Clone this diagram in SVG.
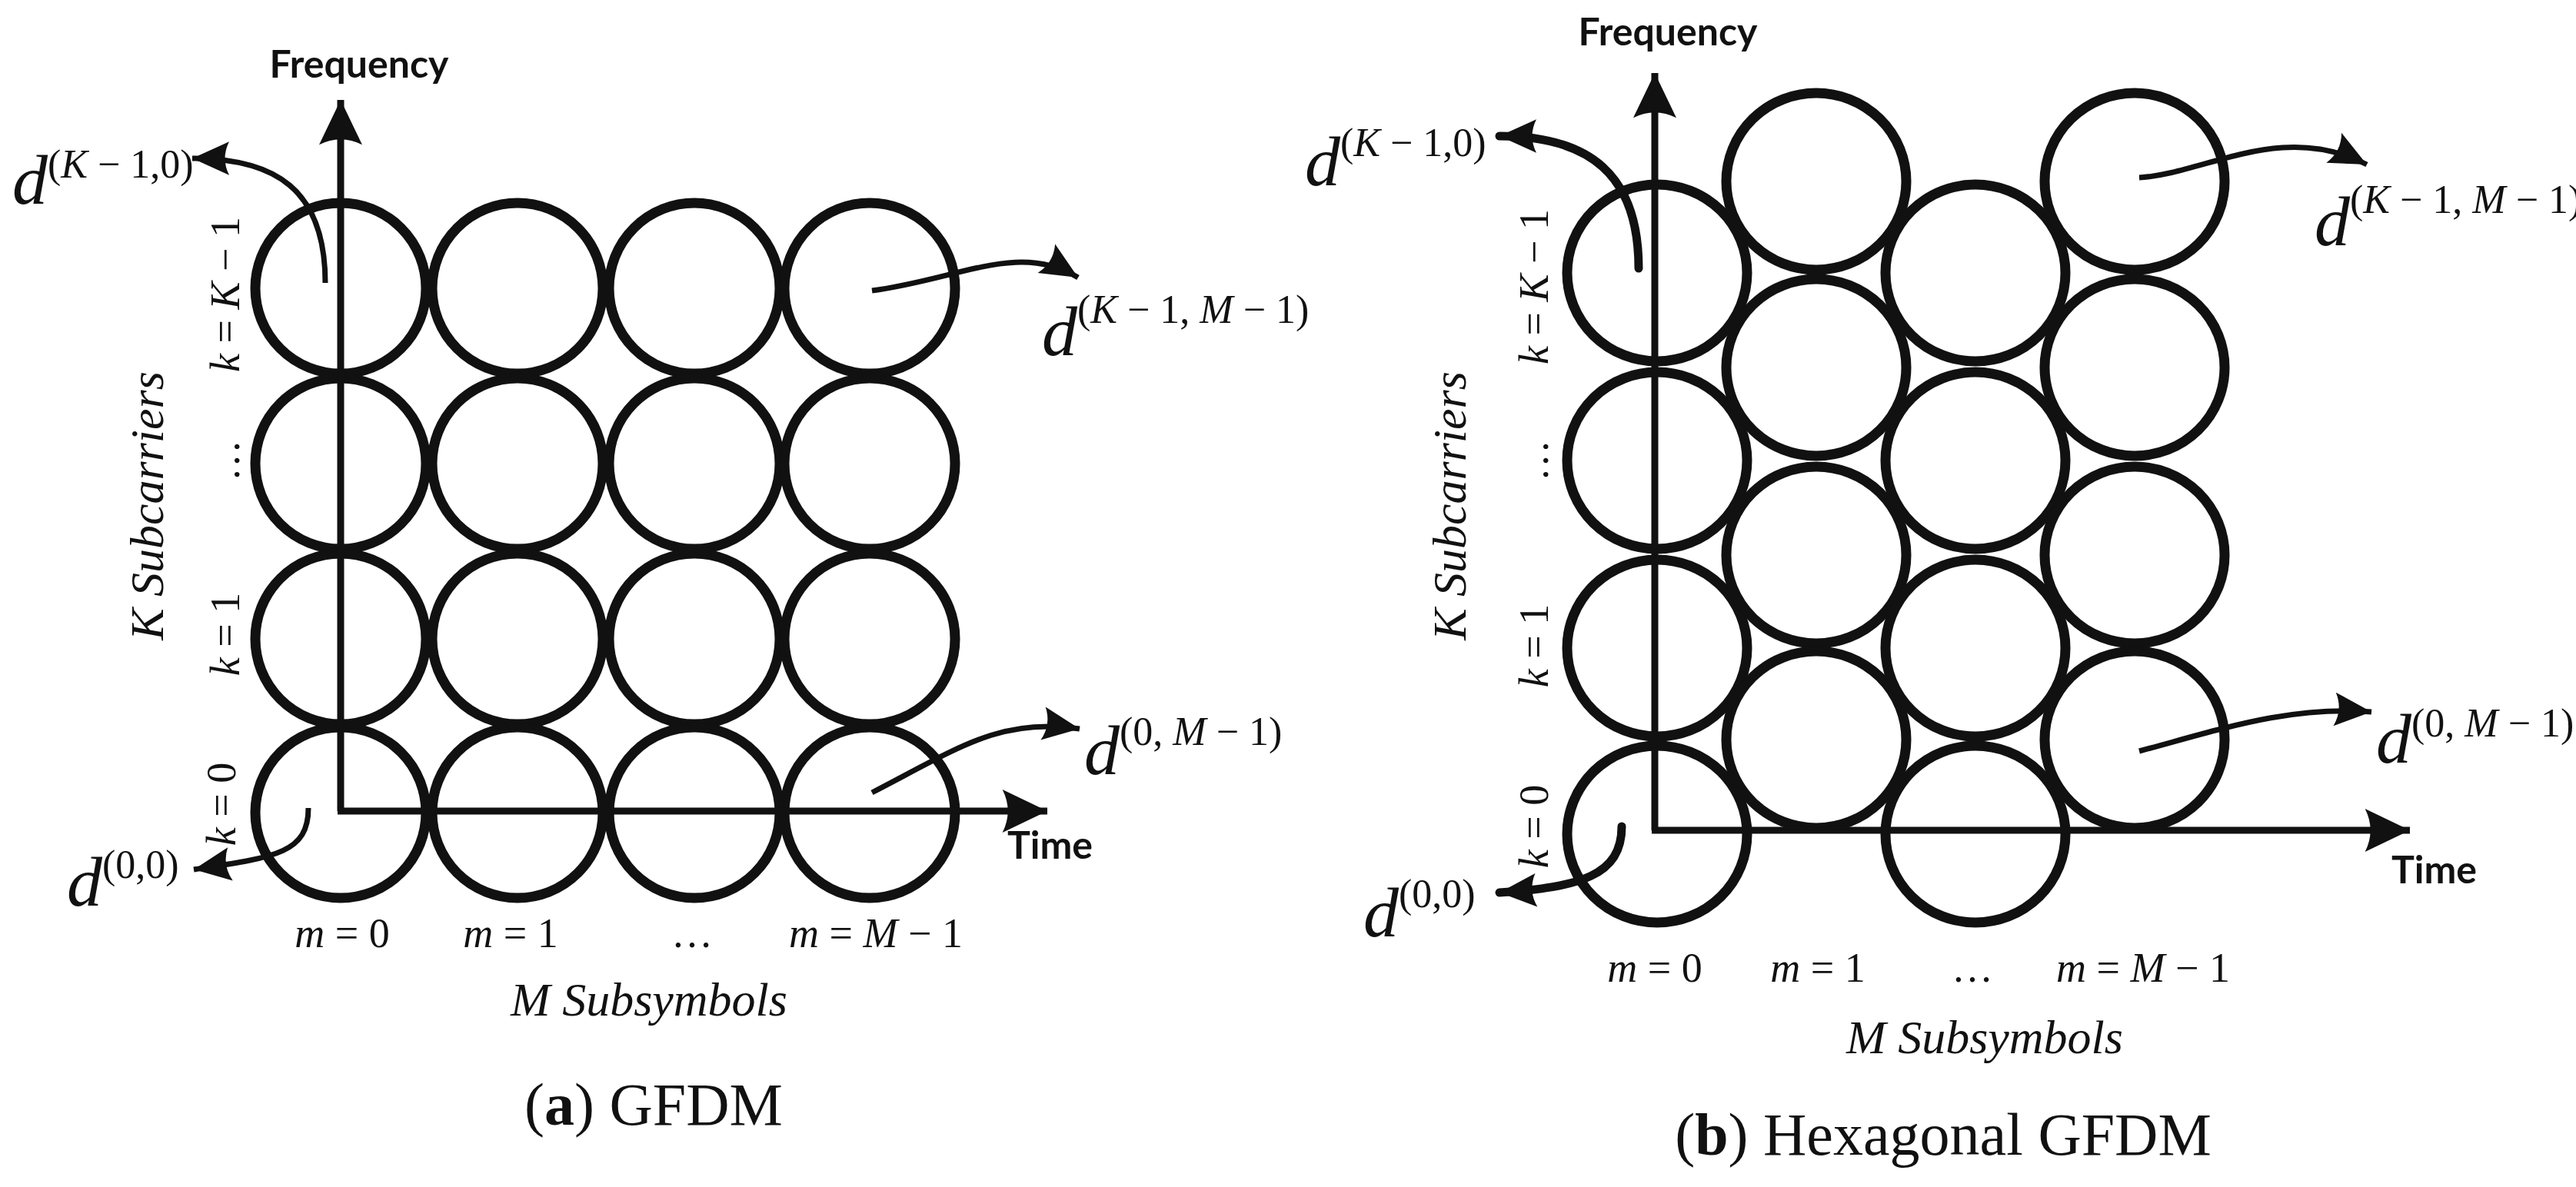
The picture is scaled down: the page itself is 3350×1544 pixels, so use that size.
<svg xmlns="http://www.w3.org/2000/svg" width="3350" height="1544" viewBox="0 0 3350 1544">
<style>
.c{fill:none;stroke:#111;stroke-width:13}
.ax{fill:none;stroke:#111;stroke-width:9}
.cv{fill:none;stroke:#111;stroke-width:7}
.cvb{fill:none;stroke:#111;stroke-width:11;stroke-linecap:round}
.lb{font-family:Lato,"Liberation Sans",sans-serif;font-weight:bold;font-size:50px;fill:#111}
.m{font-family:"Liberation Serif",serif;font-size:54px;fill:#111}
.i{font-style:italic}
.d{font-family:"Liberation Serif",serif;font-style:italic;font-size:92px;fill:#111}
.s{font-family:"Liberation Serif",serif;font-size:52px;fill:#111}
.cap{font-family:"Liberation Serif",serif;font-size:78px;fill:#111}
.t{font-family:"Liberation Serif",serif;font-style:italic;font-size:62px;fill:#111}
</style>
<defs>
<marker id="ah" markerUnits="userSpaceOnUse" markerWidth="60" markerHeight="60" viewBox="-50 -25 55 50" refX="0" refY="0" orient="auto">
<path d="M0,0 L-44,-20 Q-34,0 -44,20 Z" fill="#111"/>
</marker>
<marker id="ax" markerUnits="userSpaceOnUse" markerWidth="70" markerHeight="70" viewBox="-55 -30 60 60" refX="0" refY="0" orient="auto">
<path d="M0,0 L-50,-24 Q-38,0 -50,24 Z" fill="#111"/>
</marker>
</defs>
<g id="panel-a">
<g id="nodes-a">
<ellipse class="c" cx="443" cy="375" rx="111" ry="111"/><ellipse class="c" cx="673" cy="375" rx="111" ry="111"/><ellipse class="c" cx="903" cy="375" rx="111" ry="111"/><ellipse class="c" cx="1131" cy="375" rx="111" ry="111"/>
<ellipse class="c" cx="443" cy="603" rx="111" ry="111"/><ellipse class="c" cx="673" cy="603" rx="111" ry="111"/><ellipse class="c" cx="903" cy="603" rx="111" ry="111"/><ellipse class="c" cx="1131" cy="603" rx="111" ry="111"/>
<ellipse class="c" cx="443" cy="831" rx="111" ry="111"/><ellipse class="c" cx="673" cy="831" rx="111" ry="111"/><ellipse class="c" cx="903" cy="831" rx="111" ry="111"/><ellipse class="c" cx="1131" cy="831" rx="111" ry="111"/>
<ellipse class="c" cx="443" cy="1057" rx="111" ry="111"/><ellipse class="c" cx="673" cy="1057" rx="111" ry="111"/><ellipse class="c" cx="903" cy="1057" rx="111" ry="111"/><ellipse class="c" cx="1131" cy="1057" rx="111" ry="111"/>
</g>
<g id="connectors-a">
<path class="ax" d="M443,1055 V130" marker-end="url(#ax)"/>
<path class="ax" d="M439,1055 H1362" marker-end="url(#ax)"/>
<path class="cv" d="M423,368 C423,246 358,206 250,206" marker-end="url(#ah)"/>
<path class="cv" d="M1134,378 C1248,363 1324,314 1402,361" marker-end="url(#ah)"/>
<path class="cv" d="M1134,1031 C1248,972 1302,933 1404,948" marker-end="url(#ah)"/>
<path class="cv" d="M401,1051 C401,1110 358,1115 252,1131" marker-end="url(#ah)"/>
</g>
<text class="lb" x="467" y="101" text-anchor="middle">Frequency</text>
<text class="lb" x="1310" y="1117">Time</text>
<text x="16" y="265"><tspan class="d">d</tspan><tspan class="s" dy="-34">(<tspan class="i">K</tspan> − 1,0)</tspan></text>
<text x="1355" y="462"><tspan class="d">d</tspan><tspan class="s" dy="-42">(<tspan class="i">K</tspan> − 1, <tspan class="i">M</tspan> − 1)</tspan></text>
<text x="1410" y="1007"><tspan class="d">d</tspan><tspan class="s" dy="-38">(0, <tspan class="i">M</tspan> − 1)</tspan></text>
<text x="87" y="1178"><tspan class="d">d</tspan><tspan class="s" dy="-36">(0,0)</tspan></text>
<text class="m" transform="translate(311,383) rotate(-90)" text-anchor="middle"><tspan class="i">k</tspan> = <tspan class="i">K</tspan> − 1</text>
<text class="m" transform="translate(311,599) rotate(-90)" text-anchor="middle">…</text>
<text class="m" transform="translate(311,825) rotate(-90)" text-anchor="middle"><tspan class="i">k</tspan> = 1</text>
<text class="m" transform="translate(306,1046) rotate(-90)" text-anchor="middle"><tspan class="i">k</tspan> = 0</text>
<text class="t" transform="translate(212,658) rotate(-90)" text-anchor="middle">K Subcarriers</text>
<text class="m" x="445" y="1232" text-anchor="middle"><tspan class="i">m</tspan> = 0</text>
<text class="m" x="664" y="1232" text-anchor="middle"><tspan class="i">m</tspan> = 1</text>
<text class="m" x="900" y="1232" text-anchor="middle">…</text>
<text class="m" x="1139" y="1232" text-anchor="middle"><tspan class="i">m</tspan> = <tspan class="i">M</tspan> − 1</text>
<text class="t" x="844" y="1321" text-anchor="middle">M Subsymbols</text>
<text class="cap" x="850" y="1463" text-anchor="middle">(<tspan font-weight="bold">a</tspan>) GFDM</text>
</g>
<g id="panel-b">
<g id="nodes-b">
<ellipse class="c" cx="2155" cy="355" rx="117" ry="115"/><ellipse class="c" cx="2155" cy="599" rx="117" ry="115"/><ellipse class="c" cx="2155" cy="843" rx="117" ry="115"/><ellipse class="c" cx="2155" cy="1085" rx="117" ry="115"/>
<ellipse class="c" cx="2362" cy="236" rx="117" ry="115"/><ellipse class="c" cx="2362" cy="478" rx="117" ry="115"/><ellipse class="c" cx="2362" cy="722" rx="117" ry="115"/><ellipse class="c" cx="2362" cy="962" rx="117" ry="115"/>
<ellipse class="c" cx="2569" cy="355" rx="117" ry="115"/><ellipse class="c" cx="2569" cy="599" rx="117" ry="115"/><ellipse class="c" cx="2569" cy="843" rx="117" ry="115"/><ellipse class="c" cx="2569" cy="1085" rx="117" ry="115"/>
<ellipse class="c" cx="2776" cy="236" rx="117" ry="115"/><ellipse class="c" cx="2776" cy="478" rx="117" ry="115"/><ellipse class="c" cx="2776" cy="722" rx="117" ry="115"/><ellipse class="c" cx="2776" cy="962" rx="117" ry="115"/>
</g>
<g id="connectors-b">
<path class="ax" d="M2152,1080 V95" marker-end="url(#ax)"/>
<path class="ax" d="M2148,1080 H3134" marker-end="url(#ax)"/>
<path class="cvb" d="M2131,349 C2131,226 2066,177 1950,177" marker-end="url(#ah)"/>
<path class="cv" d="M2782,231 C2868,226 2966,157 3078,214" marker-end="url(#ah)"/>
<path class="cv" d="M2782,977 C2890,948 2977,918 3084,926" marker-end="url(#ah)"/>
<path class="cvb" d="M2109,1075 C2109,1139 2055,1154 1950,1161" marker-end="url(#ah)"/>
</g>
<text class="lb" x="2169" y="59" text-anchor="middle">Frequency</text>
<text class="lb" x="3110" y="1149">Time</text>
<text x="1697" y="241"><tspan class="d">d</tspan><tspan class="s" dy="-38">(<tspan class="i">K</tspan> − 1,0)</tspan></text>
<text x="3010" y="319"><tspan class="d">d</tspan><tspan class="s" dy="-42">(<tspan class="i">K</tspan> − 1, <tspan class="i">M</tspan> − 1)</tspan></text>
<text x="3090" y="992"><tspan class="d">d</tspan><tspan class="s" dy="-34">(0, <tspan class="i">M</tspan> − 1)</tspan></text>
<text x="1773" y="1218"><tspan class="d">d</tspan><tspan class="s" dy="-38">(0,0)</tspan></text>
<text class="m" transform="translate(2013,373) rotate(-90)" text-anchor="middle"><tspan class="i">k</tspan> = <tspan class="i">K</tspan> − 1</text>
<text class="m" transform="translate(2013,599) rotate(-90)" text-anchor="middle">…</text>
<text class="m" transform="translate(2013,840) rotate(-90)" text-anchor="middle"><tspan class="i">k</tspan> = 1</text>
<text class="m" transform="translate(2013,1075) rotate(-90)" text-anchor="middle"><tspan class="i">k</tspan> = 0</text>
<text class="t" transform="translate(1906,658) rotate(-90)" text-anchor="middle">K Subcarriers</text>
<text class="m" x="2152" y="1277" text-anchor="middle"><tspan class="i">m</tspan> = 0</text>
<text class="m" x="2364" y="1277" text-anchor="middle"><tspan class="i">m</tspan> = 1</text>
<text class="m" x="2565" y="1277" text-anchor="middle">…</text>
<text class="m" x="2787" y="1277" text-anchor="middle"><tspan class="i">m</tspan> = <tspan class="i">M</tspan> − 1</text>
<text class="t" x="2581" y="1370" text-anchor="middle">M Subsymbols</text>
<text class="cap" x="2527" y="1502" text-anchor="middle">(<tspan font-weight="bold">b</tspan>) Hexagonal GFDM</text>
</g>
</svg>
